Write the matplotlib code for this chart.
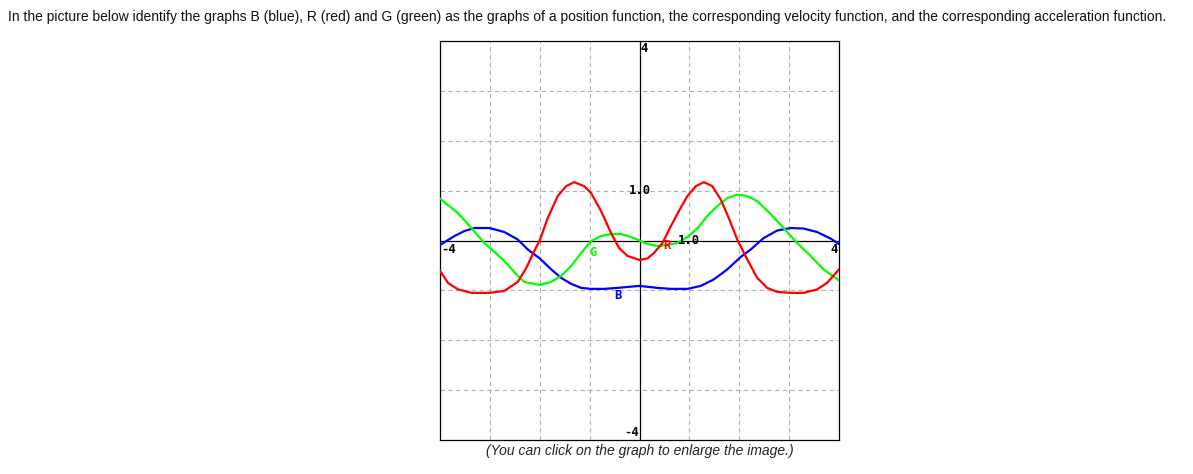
import numpy as np
import matplotlib
matplotlib.use("Agg")
import matplotlib.pyplot as plt

# values
blue_x = [-4.0, -3.71, -3.51, -3.31, -3.01, -2.71, -2.44, -2.24, -2.0, -1.77, -1.57, -1.37, -1.17,
          -0.97, -0.71, -0.44, 0.0, 0.36, 0.63, 0.96, 1.23, 1.49, 1.76, 2.03, 2.23, 2.49, 2.76,
          3.03, 3.29, 3.56, 3.83, 4.0]
blue_y = [-0.09, 0.09, 0.19, 0.25, 0.25, 0.17, 0.02, -0.18, -0.36, -0.58, -0.75, -0.87, -0.95,
          -0.97, -0.97, -0.95, -0.91, -0.95, -0.97, -0.97, -0.91, -0.78, -0.58, -0.33, -0.18, 0.05,
          0.20, 0.25, 0.24, 0.17, 0.04, -0.07]

red_x = [-4.0, -3.84, -3.64, -3.37, -3.01, -2.71, -2.44, -2.27, -2.11, -2.0, -1.84, -1.64, -1.47,
         -1.31, -1.11, -0.97, -0.77, -0.57, -0.41, -0.24, 0.0, 0.16, 0.29, 0.46, 0.63, 0.79, 0.96,
         1.13, 1.29, 1.46, 1.63, 1.79, 1.96, 2.16, 2.36, 2.56, 2.76, 3.03, 3.29, 3.56, 3.76, 4.0]
red_y = [-0.61, -0.85, -0.98, -1.05, -1.05, -1.01, -0.83, -0.55, -0.21, 0.0, 0.45, 0.89, 1.09,
         1.17, 1.09, 0.95, 0.59, 0.15, -0.15, -0.31, -0.39, -0.36, -0.25, -0.05, 0.29, 0.59, 0.89,
         1.09, 1.17, 1.09, 0.82, 0.45, 0.02, -0.38, -0.75, -0.95, -1.03, -1.05, -1.05, -0.98,
         -0.85, -0.58]

green_x = [-4.0, -3.64, -3.37, -3.11, -2.71, -2.44, -2.31, -2.0, -1.77, -1.57, -1.37, -1.17,
           -0.97, -0.77, -0.57, -0.37, -0.17, 0.0, 0.16, 0.36, 0.56, 0.76, 0.96, 1.16, 1.36, 1.56,
           1.76, 1.96, 2.16, 2.36, 2.63, 2.89, 3.16, 3.43, 3.69, 4.0]
green_y = [0.84, 0.55, 0.25, -0.05, -0.41, -0.71, -0.83, -0.89, -0.83, -0.71, -0.51, -0.25,
           -0.01, 0.09, 0.13, 0.13, 0.07, 0.0, -0.07, -0.11, -0.09, -0.05, 0.07, 0.24, 0.49, 0.69,
           0.85, 0.92, 0.89, 0.79, 0.53, 0.25, -0.05, -0.31, -0.58, -0.80]

title = ("In the picture below identify the graphs B (blue), R (red) and G (green) as the graphs "
         "of a position function, the corresponding velocity function, and the corresponding "
         "acceleration function.")
caption = "(You can click on the graph to enlarge the image.)"

W, H = 1193, 474
fig = plt.figure(figsize=(W / 100, H / 100), dpi=100)
fig.patch.set_facecolor("white")

ax = fig.add_axes([440 / W, (H - 440) / H, 399 / W, 399 / H])
ax.set_xlim(-4, 4)
ax.set_ylim(-4, 4)

# dashed grid every unit
for v in range(-3, 4):
    if v == 0:
        continue
    ax.axvline(v, color="#b0b0b0", lw=0.8, ls=(0, (4, 3)), zorder=1)
    ax.axhline(v, color="#b0b0b0", lw=0.8, ls=(0, (4, 3)), zorder=1)
ax.axvline(0, color="black", lw=0.9, zorder=2)
ax.axhline(0, color="black", lw=0.9, zorder=2)

ax.plot(blue_x, blue_y, color="#0000ff", lw=1.6, zorder=3)
ax.plot(green_x, green_y, color="#00ff00", lw=1.6, zorder=3)
ax.plot(red_x, red_y, color="#ff0000", lw=1.6, zorder=4)

mono = dict(family="DejaVu Sans Mono", fontweight="bold", fontsize=8.8)
ax.text(0.02, 3.97, "4", ha="left", va="top", **mono)
ax.text(-0.02, -3.97, "-4", ha="right", va="bottom", **mono)
ax.text(-3.98, -0.05, "-4", ha="left", va="top", **mono)
ax.text(3.98, -0.05, "4", ha="right", va="top", **mono)
ax.text(0, 1.0, "1.0", ha="center", va="center", zorder=5, **mono)
ax.text(1.0, 0.0, "1.0", ha="center", va="center", zorder=5, **mono)

ax.text(-0.44, -1.1, "B", color="#0000ff", ha="center", va="center", zorder=5, **mono)
ax.text(-0.94, -0.24, "G", color="#00ff00", ha="center", va="center", zorder=5, **mono)
ax.text(0.56, -0.1, "R", color="#ff0000", ha="center", va="center", zorder=5, **mono)

ax.set_xticks([])
ax.set_yticks([])
for s in ax.spines.values():
    s.set_linewidth(0.9)
    s.set_color("black")

fig.text(8 / W, 1 - 17 / H, title, ha="left", va="center",
         family="Liberation Sans", fontsize=10.0, color="#111111")
fig.text(640 / W, 1 - 451 / H, caption, ha="center", va="center",
         family="Liberation Sans", style="italic", fontsize=10.0, color="#222222")

fig.savefig("out.png", dpi=100, facecolor="white")
